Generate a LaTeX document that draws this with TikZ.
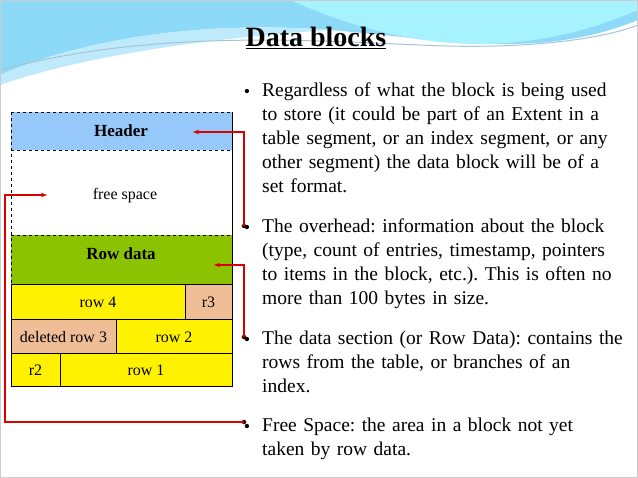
\documentclass[tikz,border=0pt]{standalone}
\usepackage{fontspec}
\setmainfont{Liberation Serif}
\usetikzlibrary{arrows.meta}
\definecolor{hdrc}{RGB}{150,200,250}
\definecolor{rowc}{RGB}{140,195,0}
\definecolor{pinkc}{RGB}{240,190,150}
\hyphenpenalty=10000
\exhyphenpenalty=10000
\frenchspacing
\begin{document}
\begin{tikzpicture}[x=1pt,y=-1pt,
  blk/.style={draw=black,line width=1pt},
  lbl/.style={font=\fontsize{16}{18}\selectfont},
  red/.style={draw=red!85!black,line width=1.3pt},
  arr/.style={red,-{Stealth[length=6pt]}},
  dotc/.style={circle,fill=black!80!red,inner sep=1.6pt},
  bul/.style={anchor=north west,align=left,text width=364pt,font=\fontsize{19.5}{24}\selectfont,inner sep=0pt}]
\useasboundingbox (0,0) rectangle (638,478);
\fill[white] (0,0) rectangle (638,478);
\fill[cyan!45!white] (0,0) -- (0,75) .. controls (80,40) and (200,20) .. (330,30) .. controls (450,40) and (540,60) .. (638,20) -- (638,0) -- cycle;
\fill[cyan!25!white] (0,75) .. controls (80,40) and (200,20) .. (330,30) .. controls (250,35) and (100,50) .. (0,85) -- cycle;
\fill[blue!15!cyan!35!white] (290,0) .. controls (380,40) and (500,70) .. (638,10) -- (638,0) -- cycle;
\draw[cyan!40!gray!60,line width=1pt] (0,70) .. controls (150,30) and (300,40) .. (420,45) .. controls (520,50) and (600,40) .. (638,25);
\draw[gray!40] (0.5,0.5) rectangle (637.5,477.5);
% blocks
\fill[hdrc] (11,112) rectangle (232,150);
\fill[white] (11,150) rectangle (232,235);
\fill[rowc] (11,235) rectangle (232,285);
\draw[dashed,line width=0.9pt] (11,112) -- (232,112) (11,150) -- (232,150) (11,235) -- (232,235) (11,112) -- (11,285);
\draw[line width=0.9pt] (232,112) -- (232,285);
\node[font=\bfseries\fontsize{17}{19}\selectfont] (hdr) at (121,131) {Header};
\node[lbl] (fs) at (125,196) {free space};
\node[font=\bfseries\fontsize{17}{19}\selectfont] (rd) at (121,254) {Row data};
\node[blk,fill=yellow,minimum width=174pt,minimum height=35pt,lbl] (r4) at (98,302.5) {row 4};
\node[blk,fill=pinkc,minimum width=47pt,minimum height=35pt,lbl] (r3) at (208.5,302.5) {r3};
\node[blk,fill=pinkc,minimum width=105pt,minimum height=34pt,lbl,inner sep=1pt] (d3) at (63.5,337) {deleted row 3};
\node[blk,fill=yellow,minimum width=116pt,minimum height=34pt,lbl] (r2b) at (174,337) {row 2};
\node[blk,fill=yellow,minimum width=49pt,minimum height=33pt,lbl] (r2) at (35.5,370.5) {r2};
\node[blk,fill=yellow,minimum width=172pt,minimum height=33pt,lbl] (r1) at (146,370.5) {row 1};
% arrows
\node[dotc] (d1) at (244,226) {};
\node[dotc] (d2) at (244,337) {};
\node[dotc] (d3p) at (244,422) {};
\coordinate (h) at (193,132);
\coordinate (rr) at (214,265);
\coordinate (f) at (47,195);
\draw[arr] (d1.center) |- (h);
\draw[arr] (d2.center) |- (rr);
\draw[arr] (d3p.center) -| (5,195) -- (f);
% text
\node[font=\bfseries\fontsize{28}{30}\selectfont] (title) at (316,38) {\underline{Data blocks}};
\node[bul] (b1) at (262,83) {Regardless of what the block is being used to store (it could be part of an Extent in a table segment, or an index segment, or any other segment) the data block will be of a set format.};
\node[bul] (b2) at (262,219) {The overhead: information about the block (type, count of entries, timestamp, pointers to items in the block, etc.). This is often no more than 100 bytes in size.};
\node[bul] (b3) at (262,331) {The data section (or Row Data): contains the rows from the table, or branches of an\\ index.};
\node[bul] (b4) at (262,418) {Free Space: the area in a block not yet\\ taken by row data.};
\foreach \y in {93,229,341,428} \node[font=\fontsize{18}{20}\selectfont] at (247,\y) {•};
\end{tikzpicture}
\end{document}
